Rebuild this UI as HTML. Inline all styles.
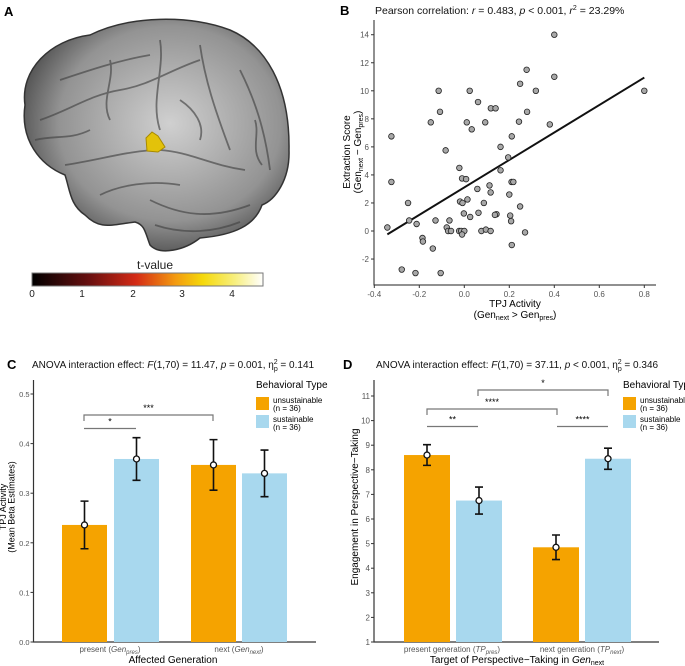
<!DOCTYPE html>
<html><head><meta charset="utf-8"><style>
body{margin:0;background:#fff}
svg{display:block;font-family:"Liberation Sans",sans-serif}
</style></head><body>
<svg id="fig" width="685" height="666" viewBox="0 0 685 666">
<defs>
<radialGradient id="bg" cx="0.55" cy="0.45" r="0.6">
<stop offset="0" stop-color="#d0d0d0"/><stop offset="0.7" stop-color="#939393"/><stop offset="1" stop-color="#4a4a4a"/></radialGradient>
<linearGradient id="cb" x1="0" x2="1">
<stop offset="0" stop-color="#000"/><stop offset="0.25" stop-color="#6a1010"/><stop offset="0.45" stop-color="#d42a15"/><stop offset="0.62" stop-color="#f39a10"/><stop offset="0.74" stop-color="#f5d90a"/><stop offset="0.88" stop-color="#f7ef80"/><stop offset="1" stop-color="#fff"/></linearGradient>
</defs>
<!-- Panel A -->
<g>
<text x="4" y="16" font-weight="bold" font-size="13">A</text>
<path d="M25,105 C20,70 50,40 90,35 C130,15 190,15 230,30 C265,45 290,85 289,150 C290,180 275,200 262,205 C255,225 235,235 200,238 C185,250 160,256 150,245 C145,232 145,225 135,222 C110,225 100,230 85,215 C70,205 70,190 65,175 C40,165 20,140 25,105 Z" fill="url(#bg)" stroke="#333" stroke-width="1.5"/>
<g stroke="#444" stroke-width="1.8" fill="none" opacity="0.65">
<path d="M40,120 C70,110 90,95 120,90 C150,85 170,70 200,60"/>
<path d="M65,165 C100,160 130,150 160,150 C190,152 210,165 245,170"/>
<path d="M160,40 C165,70 150,100 160,130"/>
<path d="M200,45 C205,80 215,110 230,150"/>
<path d="M150,200 C180,215 210,220 250,205"/>
<path d="M60,80 C90,70 120,60 150,55"/>
<path d="M100,195 C120,185 150,180 180,185"/>
<path d="M240,70 C255,100 265,130 270,170"/>
<path d="M35,140 C55,135 70,140 90,130"/>
<path d="M110,60 C115,80 100,100 110,120"/>
<path d="M180,100 C195,110 205,125 200,140"/>
<path d="M155,225 C185,235 215,232 240,222"/>
<path d="M255,120 C260,135 250,150 262,165"/>
</g>
<path d="M146,138 L152,132 L158,136 L165,147 L158,152 L147,151 Z" fill="#e3c20a" stroke="#a88a00"/>
<text x="155" y="269" font-size="12" text-anchor="middle" fill="#222">t-value</text>
<rect x="32" y="273" width="231" height="13" fill="url(#cb)" stroke="#777"/>
<g font-size="10" fill="#222" text-anchor="middle">
<text x="32" y="297">0</text><text x="82" y="297">1</text><text x="133" y="297">2</text><text x="182" y="297">3</text><text x="232" y="297">4</text></g>
</g>
<g id="pb"></g>
<g id="pc"></g>
<g id="pd"></g>
</svg>
<script>
// ---- Panel B data ----
const tpjX=[0.40,0.277,0.40,0.248,-0.114,0.024,0.318,0.8,-0.108,0.061,0.118,0.139,-0.149,0.011,0.093,0.243,0.38,0.033,0.279,-0.324,0.211,-0.083,0.161,0.195,0.161,-0.022,-0.01,0.008,-0.324,0.112,0.058,0.21,0.218,0.117,0.2,-0.25,-0.019,-0.008,0.014,0.087,-0.002,0.063,0.026,0.143,0.136,0.248,0.204,0.208,-0.245,-0.212,-0.342,-0.128,-0.066,-0.078,-0.072,-0.059,-0.023,-0.014,0,-0.01,0.076,0.096,0.117,0.27,-0.186,-0.184,-0.14,0.211,-0.278,-0.217,-0.105];
const extrY=[14,11.5,11,10.5,10,10,10,10,8.5,9.2,8.75,8.75,7.75,7.75,7.75,7.8,7.6,7.25,8.5,6.75,6.75,5.75,6,5.25,4.33,4.5,3.75,3.7,3.5,3.25,3,3.5,3.5,2.75,2.6,2,2.1,2,2.25,2,1.25,1.3,1,1.2,1.15,1.75,1.1,0.7,0.75,0.5,0.25,0.75,0.75,0.25,0,0,0,0,0,-0.25,0,0.1,0,-0.1,-0.5,-0.75,-1.25,-1,-2.75,-3,-3];
const bXTicks=[-0.4,-0.2,0.0,0.2,0.4,0.6,0.8];
const bXTickLabels=["-0.4","-0.2","0.0","0.2","0.4","0.6","0.8"];
const bYTicks=[-2,0,2,4,6,8,10,12,14];
// ---- Panel C data ----
const cCats=["present","next"];
const cUnsus=[0.236,0.357];
const cSus=[0.369,0.340];
const cUnsusErr=[0.048,0.051];
const cSusErr=[0.043,0.047];
const cYTicks=[0.0,0.1,0.2,0.3,0.4,0.5];
const cYTickLabels=["0.0","0.1","0.2","0.3","0.4","0.5"];
// ---- Panel D data ----
const dUnsus=[8.6,4.85];
const dSus=[6.75,8.45];
const dUnsusErr=[0.42,0.5];
const dSusErr=[0.55,0.43];
const dYTicks=[1,2,3,4,5,6,7,8,9,10,11];

const NS="http://www.w3.org/2000/svg";
function mk(p,tag,a,txt){const e=document.createElementNS(NS,tag);for(const k in a)e.setAttribute(k,a[k]);if(txt!==undefined)e.textContent=txt;p.appendChild(e);return e;}
function rich(p,a,html){const e=mk(p,'text',a);e.innerHTML=html;return e;}

// ===== Panel B =====
(function(){
const g=document.getElementById('pb');
const x=v=>374.3+(v+0.4)*225, y=v=>231-v*14.02;
let t=mk(g,'text',{x:340,y:15,'font-weight':'bold','font-size':13});t.textContent='B';


t=rich(g,{x:375,y:14,'font-size':10.5,fill:'#111'},'Pearson correlation: <tspan font-style="italic">r</tspan> = 0.483, <tspan font-style="italic">p</tspan> &lt; 0.001, <tspan font-style="italic">r</tspan><tspan dy="-4" font-size="7">2</tspan><tspan dy="4"> = 23.29%</tspan>');


let ax=mk(g,'path',{d:'M374,20 V285 H656',stroke:'#222','stroke-width':1,fill:'none'});


bXTicks.forEach((v,i)=>{mk(g,'line',{x1:x(v),x2:x(v),y1:285,y2:288,stroke:'#333'});
 const l=mk(g,'text',{x:x(v),y:297,'font-size':8,fill:'#555','text-anchor':'middle'},bXTickLabels[i]);
 
 });
bYTicks.forEach(v=>{mk(g,'line',{x1:371,x2:374,y1:y(v),y2:y(v),stroke:'#333'});
 const l=mk(g,'text',{x:369,y:y(v)+3,'font-size':8,fill:'#555','text-anchor':'end'},String(v));
 
 });
t=mk(g,'text',{x:515,y:307,'font-size':10,'text-anchor':'middle'},'TPJ Activity');


t=rich(g,{x:515,y:318,'font-size':10,'text-anchor':'middle'},'(Gen<tspan dy="2" font-size="7">next</tspan><tspan dy="-2"> &gt; Gen</tspan><tspan dy="2" font-size="7">pres</tspan><tspan dy="-2">)</tspan>');


const yt=mk(g,'g',{transform:'translate(350,152) rotate(-90)'});


mk(yt,'text',{x:0,y:0,'font-size':10,'text-anchor':'middle'},'Extraction Score');
rich(yt,{x:0,y:11,'font-size':10,'text-anchor':'middle'},'(Gen<tspan dy="2" font-size="7">next</tspan><tspan dy="-2"> − Gen</tspan><tspan dy="2" font-size="7">pres</tspan><tspan dy="-2">)</tspan>');
const n=tpjX.length;let mx=0,my=0;for(let i=0;i<n;i++){mx+=tpjX[i];my+=extrY[i];}mx/=n;my/=n;
let sxy=0,sxx=0;for(let i=0;i<n;i++){sxy+=(tpjX[i]-mx)*(extrY[i]-my);sxx+=(tpjX[i]-mx)**2;}
const b=sxy/sxx,a=my-b*mx;const x0=Math.min(...tpjX),x1=Math.max(...tpjX);
const rl=mk(g,'line',{x1:x(x0),y1:y(a+b*x0),x2:x(x1),y2:y(a+b*x1),stroke:'#111','stroke-width':2});


for(let i=0;i<n;i++){const c=mk(g,'circle',{cx:x(tpjX[i]),cy:y(extrY[i]),r:2.8,fill:'#a8a8a8',stroke:'#222','stroke-width':0.8});
 
 }
})();

function barPanel(id,opt){
const g=document.getElementById(id);
const y=v=>opt.y0-(v-opt.base)*opt.k;
let t=mk(g,'text',{x:opt.lx,y:369,'font-weight':'bold','font-size':13},opt.letter);


t=rich(g,{x:opt.tx,y:368,'font-size':10,fill:'#111'},opt.title);


const ax=mk(g,'path',{d:`M${opt.ax},380 V642 H${opt.right}`,stroke:'#333','stroke-width':1.2,fill:'none'});


opt.ticks.forEach((v,i)=>{mk(g,'line',{x1:opt.ax-3,x2:opt.ax,y1:y(v),y2:y(v),stroke:'#333'});
 const l=mk(g,'text',{x:opt.ax-4,y:y(v)+3,'font-size':opt.tfs,fill:'#555','text-anchor':'end'},opt.tickLabels[i]);
 
 });
const series=[[opt.u,opt.ue,'#f5a300','unsustainable'],[opt.s,opt.se,'#a8d8ee','sustainable']];
series.forEach((s,si)=>{s[0].forEach((v,ci)=>{
 const bx=opt.bars[ci*2+si];
 const r=mk(g,'rect',{x:bx,y:y(v),width:opt.bw,height:642-y(v),fill:s[2]});
 
 
 const cx=bx+opt.bw/2,lo=y(v-s[1][ci]),hi=y(v+s[1][ci]);
 const e=mk(g,'path',{d:`M${cx},${lo}V${hi}M${cx-4},${lo}H${cx+4}M${cx-4},${hi}H${cx+4}`,stroke:'#111','stroke-width':1.6,fill:'none'});
 
 
 const c=mk(g,'circle',{cx:cx,cy:y(v),r:3,fill:'#fff',stroke:'#111','stroke-width':1.3});
 
 
});});
opt.brackets.forEach(b=>{
 const p=mk(g,'path',{d:b.tick?`M${b.x1},${b.y+6}V${b.y}H${b.x2}V${b.y+6}`:`M${b.x1},${b.y}H${b.x2}`,stroke:'#777','stroke-width':1.2,fill:'none'});
 
 
 const l=mk(g,'text',{x:(b.x1+b.x2)/2,y:b.y-4,'font-size':9,'text-anchor':'middle'},b.s);
 
 });
opt.xlabels.forEach(xl=>{const l=rich(g,{x:xl[0],y:652,'font-size':8,fill:'#555','text-anchor':'middle'},xl[1]);
 
 });
t=rich(g,{x:opt.xtx,y:663,'font-size':10,'text-anchor':'middle'},opt.xtitle);


const yt=mk(g,'g',{transform:`translate(${opt.ytx},${opt.yty}) rotate(-90)`});


opt.ytitle.forEach((s,i)=>rich(yt,{x:0,y:i*8.5,'font-size':opt.ytfs,'text-anchor':'middle'},s));
const lg=mk(g,'g',{});


mk(lg,'text',{x:opt.lgx,y:388,'font-size':10},'Behavioral Type');
mk(lg,'rect',{x:opt.lgx,y:397,width:13,height:13,fill:'#f5a300'});
mk(lg,'text',{x:opt.lgx+17,y:403,'font-size':8},'unsustainable');
mk(lg,'text',{x:opt.lgx+17,y:411,'font-size':8},'(n = 36)');
mk(lg,'rect',{x:opt.lgx,y:415,width:13,height:13,fill:'#a8d8ee'});
mk(lg,'text',{x:opt.lgx+17,y:422,'font-size':8},'sustainable');
mk(lg,'text',{x:opt.lgx+17,y:430,'font-size':8},'(n = 36)');
}
barPanel('pc',{letter:'C',lx:7,tx:32,title:'ANOVA interaction effect: <tspan font-style="italic">F</tspan>(1,70) = 11.47, <tspan font-style="italic">p</tspan> = 0.001, η<tspan dy="3" font-size="7">p</tspan><tspan dy="-7" dx="-4" font-size="7">2</tspan><tspan dy="4"> = 0.141</tspan>',
 ax:33.5,right:316,y0:642,base:0,k:496,ticks:cYTicks,tickLabels:cYTickLabels,tfs:7.5,u:cUnsus,s:cSus,ue:cUnsusErr,se:cSusErr,
 bars:[62,114,191,242],bw:45,
 brackets:[{x1:84,x2:136,y:428.5,s:'*'},{x1:84,x2:213,y:415,s:'***',tick:true}],
 xlabels:[[110,'present (<tspan font-style="italic">Gen</tspan><tspan font-style="italic" font-size="6" dy="2">pres</tspan><tspan dy="-2">)</tspan>'],[239,'next (<tspan font-style="italic">Gen</tspan><tspan font-style="italic" font-size="6" dy="2">next</tspan><tspan dy="-2">)</tspan>']],
 xtx:173,xtitle:'Affected Generation',ytx:6,yty:507,ytfs:9,ytitle:['TPJ Activity','(Mean Beta Estimates)'],lgx:256});
barPanel('pd',{letter:'D',lx:343,tx:376,title:'ANOVA interaction effect: <tspan font-style="italic">F</tspan>(1,70) = 37.11, <tspan font-style="italic">p</tspan> &lt; 0.001, η<tspan dy="3" font-size="7">p</tspan><tspan dy="-7" dx="-4" font-size="7">2</tspan><tspan dy="4"> = 0.346</tspan>',
 ax:374,right:659,y0:642,base:1,k:24.6,ticks:dYTicks,tickLabels:dYTicks.map(String),tfs:8,u:dUnsus,s:dSus,ue:dUnsusErr,se:dSusErr,
 bars:[404,456,533,585],bw:46,
 brackets:[{x1:478,x2:608,y:390,s:'*',tick:true},{x1:427,x2:557,y:409,s:'****',tick:true},{x1:427,x2:478,y:426.5,s:'**'},{x1:557,x2:608,y:426.5,s:'****'}],
 xlabels:[[452,'present generation (<tspan font-style="italic">TP</tspan><tspan font-style="italic" font-size="6" dy="2">pres</tspan><tspan dy="-2">)</tspan>'],[582,'next generation (<tspan font-style="italic">TP</tspan><tspan font-style="italic" font-size="6" dy="2">next</tspan><tspan dy="-2">)</tspan>']],
 xtx:517,xtitle:'Target of Perspective−Taking in <tspan font-style="italic">Gen</tspan><tspan font-size="7" dy="2">next</tspan>',ytx:358,yty:507,ytfs:10,ytitle:['Engagement in Perspective−Taking'],lgx:623});
</script>
</body></html>
